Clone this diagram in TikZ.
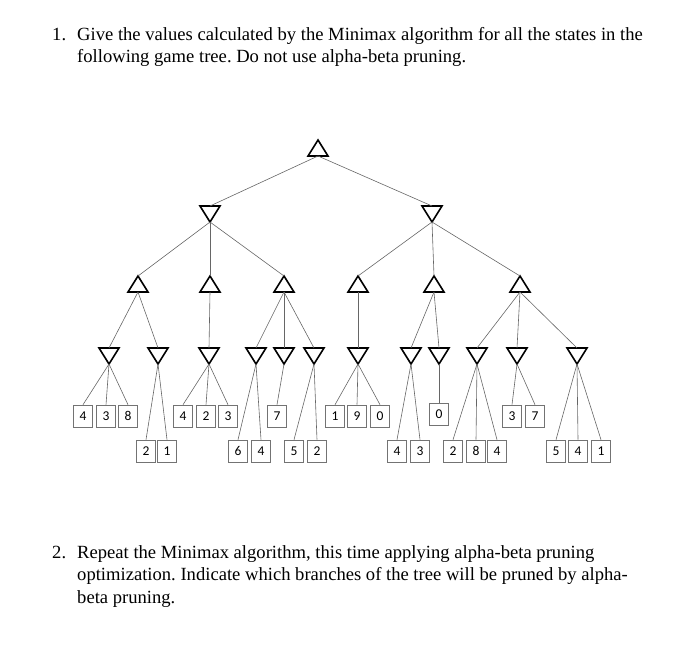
\documentclass[tikz,border=0pt]{standalone}
\usepackage{fontspec}
\setmainfont{Liberation Serif}
\newfontfamily\leaffont{Carlito}
\frenchspacing
\begin{document}
\begin{tikzpicture}[x=1pt,y=-1pt,
  tri/.style={draw=black,line width=1.6pt},
  leaf/.style={draw=black!55,line width=0.6pt,minimum width=19pt,minimum height=22pt,inner sep=0pt,font=\leaffont\fontsize{13.5}{13.5}\selectfont},
  edge/.style={draw=black!60,line width=0.6pt},
  qtext/.style={anchor=base west,inner sep=0pt,font=\fontsize{18.6}{20}\selectfont}]
\useasboundingbox (0,0) rectangle (700,669);
\newcommand{\maxnode}[3]{%
  \draw[tri] (#2-10,#3+8) -- (#2,#3-8) -- (#2+10,#3+8) -- cycle;
  \coordinate (#1t) at (#2,#3-8); \coordinate (#1b) at (#2,#3+8);}
\newcommand{\minnode}[3]{%
  \draw[tri] (#2-10,#3-8) -- (#2,#3+8) -- (#2+10,#3-8) -- cycle;
  \coordinate (#1t) at (#2,#3-8); \coordinate (#1b) at (#2,#3+8);}
\maxnode{r}{318}{148}
\minnode{a}{210}{214}
\minnode{b}{432}{214}
\maxnode{c1}{138}{284}
\maxnode{c2}{210}{284}
\maxnode{c3}{284}{284}
\maxnode{c4}{358}{284}
\maxnode{c5}{434}{284}
\maxnode{c6}{520}{284}
\minnode{d1}{109}{356}
\minnode{d2}{158}{356}
\minnode{d3}{209}{356}
\minnode{d4}{256}{356}
\minnode{d5}{284}{356}
\minnode{d6}{314}{356}
\minnode{d7}{358}{356}
\minnode{d8}{411}{356}
\minnode{d9}{439}{356}
\minnode{d10}{477}{356}
\minnode{d11}{517}{356}
\minnode{d12}{577}{356}
\foreach \p/\c in {r/a,r/b,a/c1,a/c2,a/c3,b/c4,b/c5,b/c6,
  c1/d1,c1/d2,c2/d3,c3/d4,c3/d5,c3/d6,c4/d7,c5/d8,c5/d9,c6/d10,c6/d11,c6/d12}
  \draw[edge] (\p b) -- (\c t);
\foreach \n/\x/\y/\v/\p in {
 l1/83/416/4/d1, l2/106/416/3/d1, l3/128/416/8/d1,
 l4/146/451/2/d2, l5/167/451/1/d2,
 l6/183/416/4/d3, l7/206/416/2/d3, l8/228/416/3/d3,
 l9/238/451/6/d4, l10/261/451/4/d4,
 l11/277/416/7/d5,
 l12/294/451/5/d6, l13/317/451/2/d6,
 l14/335/416/1/d7, l15/357/416/9/d7, l16/380/416/0/d7,
 l17/397/451/4/d8, l18/420/451/3/d8,
 l19/439/414/0/d9,
 l20/453/451/2/d10, l21/476/451/8/d10, l22/497/451/4/d10,
 l23/512/416/3/d11, l24/535/416/7/d11,
 l25/556/451/5/d12, l26/578/451/4/d12, l27/601/451/1/d12}{
  \node[leaf] (\n) at (\x,\y) {\v};
  \draw[edge] (\p b) -- (\n.north);
}
\node[qtext] (q1a) at (52,41) {1.};
\node[qtext] (q1b) at (77,41) {Give the values calculated by the Minimax algorithm for all the states in the};
\node[qtext] (q1c) at (77,63) {following game tree. Do not use alpha-beta pruning.};
\node[qtext] (q2a) at (52,558) {2.};
\node[qtext] (q2b) at (77,558) {Repeat the Minimax algorithm, this time applying alpha-beta pruning};
\node[qtext] (q2c) at (77,580) {optimization. Indicate which branches of the tree will be pruned by alpha-};
\node[qtext] (q2d) at (77,603) {beta pruning.};
\end{tikzpicture}
\end{document}
